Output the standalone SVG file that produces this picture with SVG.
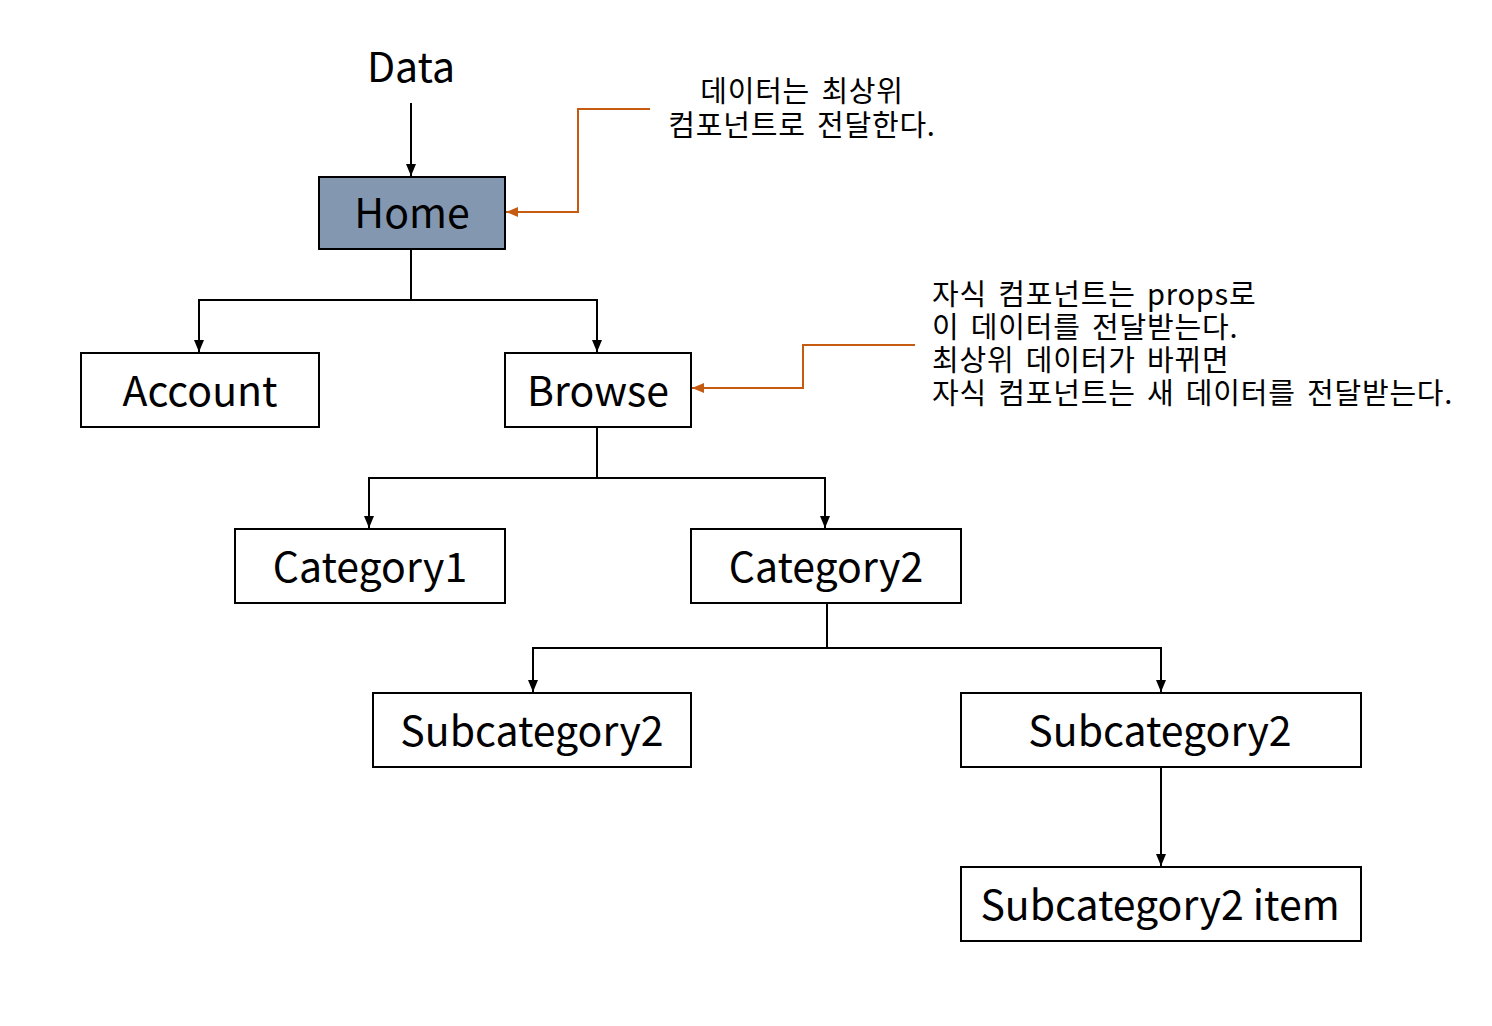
<svg xmlns="http://www.w3.org/2000/svg" width="1492" height="1026" viewBox="0 0 1492 1026">
<defs>
<marker id="ah" markerUnits="userSpaceOnUse" markerWidth="12" markerHeight="12" viewBox="0 0 12 12" refX="12" refY="6" orient="auto">
<path d="M0,1 L12,6 L0,11 Z" fill="#000"/>
</marker>
<marker id="aho" markerUnits="userSpaceOnUse" markerWidth="12" markerHeight="12" viewBox="0 0 12 12" refX="12" refY="6" orient="auto">
<path d="M0,1 L12,6 L0,11 Z" fill="#C55A11"/>
</marker>
</defs>
<style>
.box{fill:#fff;stroke:#000;stroke-width:2}
.home{fill:#8497B0;stroke:#000;stroke-width:2}
.lbl{font-family:"Noto Sans CJK KR","Noto Sans",sans-serif;font-size:41px;fill:#000;text-anchor:middle}
.note{font-family:"Noto Sans CJK KR",sans-serif;font-size:29px;letter-spacing:0.8px;word-spacing:4px;fill:#000}
.con{fill:none;stroke:#000;stroke-width:2;marker-end:url(#ah)}
.call{fill:none;stroke:#C55A11;stroke-width:2;marker-end:url(#aho)}
</style>
<rect width="1492" height="1026" fill="#fff"/>
<g id="connectors">
<path class="con" d="M411,103 V176"/>
<path class="con" d="M411,249 V300 H199 V352"/>
<path class="con" d="M411,300 H597 V352"/>
<path class="con" d="M597,427 V478 H369 V528"/>
<path class="con" d="M597,478 H825 V528"/>
<path class="con" d="M827,603 V648 H533 V692"/>
<path class="con" d="M827,648 H1161 V692"/>
<path class="con" d="M1161,767 V866"/>
<path class="call" d="M650,109 H578 V212 H506"/>
<path class="call" d="M915,345 H803 V388 H692"/>
</g>
<g id="data"><text class="lbl" x="411" y="82">Data</text></g>
<g id="home"><rect class="home" x="319" y="177" width="186" height="72"/><text class="lbl" x="412" y="228">Home</text></g>
<g id="account"><rect class="box" x="81" y="353" width="238" height="74"/><text class="lbl" x="200" y="406">Account</text></g>
<g id="browse"><rect class="box" x="505" y="353" width="186" height="74"/><text class="lbl" x="598" y="406">Browse</text></g>
<g id="category1"><rect class="box" x="235" y="529" width="270" height="74"/><text class="lbl" x="370" y="582">Category1</text></g>
<g id="category2"><rect class="box" x="691" y="529" width="270" height="74"/><text class="lbl" x="826" y="582">Category2</text></g>
<g id="subcat-left"><rect class="box" x="373" y="693" width="318" height="74"/><text class="lbl" x="532" y="746">Subcategory2</text></g>
<g id="subcat-right"><rect class="box" x="961" y="693" width="400" height="74"/><text class="lbl" x="1160" y="746">Subcategory2</text></g>
<g id="subcat-item"><rect class="box" x="961" y="867" width="400" height="74"/><text class="lbl" x="1160" y="920">Subcategory2 item</text></g>
<g id="note1">
<text class="note" text-anchor="middle" x="802" y="102">데이터는 최상위</text>
<text class="note" text-anchor="middle" x="802" y="136">컴포넌트로 전달한다.</text>
</g>
<g id="note2">
<text class="note" x="932" y="305">자식 컴포넌트는 props로</text>
<text class="note" x="932" y="338">이 데이터를 전달받는다.</text>
<text class="note" x="932" y="371">최상위 데이터가 바뀌면</text>
<text class="note" x="932" y="404">자식 컴포넌트는 새 데이터를 전달받는다.</text>
</g>
</svg>
